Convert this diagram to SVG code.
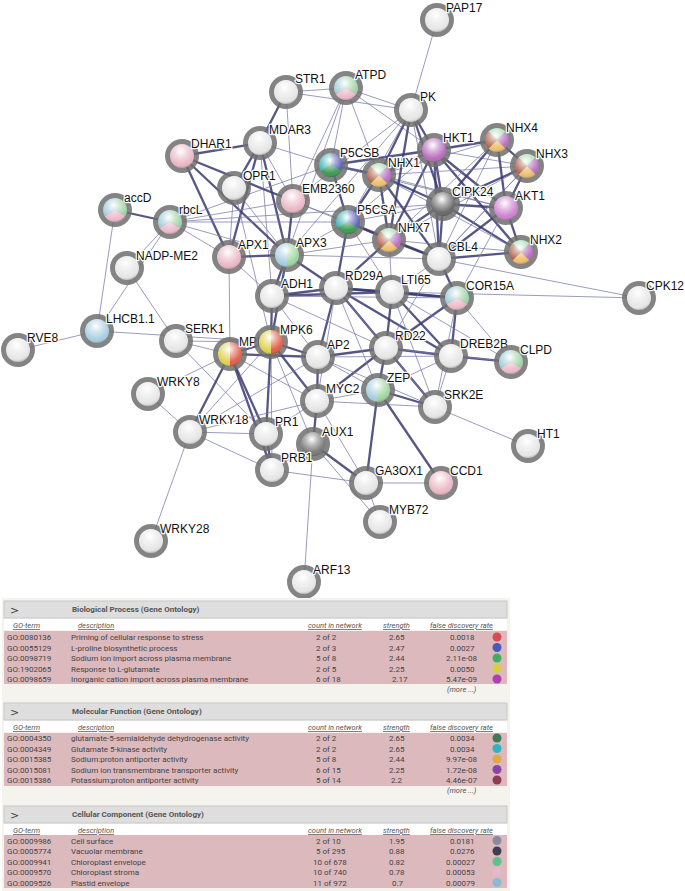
<svg xmlns="http://www.w3.org/2000/svg" xmlns:xlink="http://www.w3.org/1999/xlink" width="685" height="891" viewBox="0 0 685 891">
<style>
.t{stroke:#7a7aae;stroke-width:1;opacity:.75}
.k{stroke:#3a3a72;stroke-width:2.3;opacity:.85}
.halo{fill:#6e6e6e;opacity:.85}
.w{fill:#e6e6e6}
.lb{font-family:"Liberation Sans",Arial,sans-serif;font-size:12px;fill:#111;stroke:#fff;stroke-width:2.5px;paint-order:stroke;stroke-linejoin:round}
.tt{font-family:Roboto,"Liberation Sans",sans-serif;font-size:8px;fill:#555;font-weight:bold}
.cv{font-family:"DejaVu Sans",sans-serif;font-size:11px;fill:#444}
.ch{font-family:Roboto,"Liberation Sans",sans-serif;font-size:7.5px;fill:#555;font-style:italic;text-decoration:underline}
.rw{font-family:Roboto,"Liberation Sans",sans-serif;font-size:8px;fill:#444}
.mo{font-family:Roboto,"Liberation Sans",sans-serif;font-size:7.5px;fill:#555;font-style:italic}
</style>
<defs>
<radialGradient id="sh" cx="0.45" cy="0.3" r="0.7">
<stop offset="0" stop-color="#fff" stop-opacity="1"/>
<stop offset="0.35" stop-color="#fff" stop-opacity="0.5"/>
<stop offset="0.8" stop-color="#fff" stop-opacity="0"/>
<stop offset="1" stop-color="#000" stop-opacity="0.2"/>
</radialGradient>
<g id="cc3">
<path d="M0,0 L0,-12 A12,12 0 0,0 -10.39,6 Z" fill="#9ccbd6"/>
<path d="M0,0 L0,-12 A12,12 0 0,1 10.39,6 Z" fill="#9fd3a6"/>
<path d="M0,0 L10.39,6 A12,12 0 0,1 -10.39,6 Z" fill="#ecbccb"/>
</g>
<g id="p5">
<path d="M0,0 L0,-12 A12,12 0 0,0 -10.39,6 Z" fill="#3fb3b3"/>
<path d="M0,0 L0,-12 A12,12 0 0,1 10.39,6 Z" fill="#5a62b8"/>
<path d="M0,0 L10.39,6 A12,12 0 0,1 -10.39,6 Z" fill="#3f9a55"/>
</g>
<g id="nhx">
<path d="M0,0 L-8.49,-8.49 A12,12 0 0,1 8.49,-8.49 Z" fill="#9ed4a8"/>
<path d="M0,0 L8.49,-8.49 A12,12 0 0,1 8.49,8.49 Z" fill="#b870c0"/>
<path d="M0,0 L8.49,8.49 A12,12 0 0,1 -8.49,8.49 Z" fill="#eec070"/>
<path d="M0,0 L-8.49,8.49 A12,12 0 0,1 -8.49,-8.49 Z" fill="#b0664e"/>
</g>
<g id="gb">
<path d="M0,-12 A12,12 0 0,0 0,12 Z" fill="#a6cde0"/>
<path d="M0,-12 A12,12 0 0,1 0,12 Z" fill="#9fd6a0"/>
</g>
<g id="yr">
<path d="M0,-12 A12,12 0 0,0 0,12 Z" fill="#e0d050"/>
<path d="M0,-12 A12,12 0 0,1 0,12 Z" fill="#e0604a"/>
</g>
<g id="hal"><circle r="17" class="halo"/></g>
<g id="shn"><circle r="12" fill="url(#sh)"/></g>
</defs>
<rect width="685" height="891" fill="#fff"/>
<g id="edges">
<line x1="437" y1="20" x2="411" y2="110" class="t"/>
<line x1="286" y1="92" x2="260" y2="143" class="k"/>
<line x1="286" y1="92" x2="346" y2="88" class="t"/>
<line x1="286" y1="92" x2="411" y2="110" class="t"/>
<line x1="286" y1="92" x2="293" y2="201" class="t"/>
<line x1="346" y1="88" x2="331" y2="165" class="t"/>
<line x1="346" y1="88" x2="293" y2="201" class="t"/>
<line x1="346" y1="88" x2="287" y2="255" class="t"/>
<line x1="346" y1="88" x2="411" y2="110" class="t"/>
<line x1="346" y1="88" x2="379" y2="175" class="t"/>
<line x1="346" y1="88" x2="434" y2="150" class="t"/>
<line x1="260" y1="143" x2="182" y2="156" class="k"/>
<line x1="260" y1="143" x2="234" y2="188" class="k"/>
<line x1="260" y1="143" x2="229" y2="257" class="k"/>
<line x1="260" y1="143" x2="287" y2="255" class="k"/>
<line x1="260" y1="143" x2="293" y2="201" class="t"/>
<line x1="260" y1="143" x2="331" y2="165" class="t"/>
<line x1="260" y1="143" x2="272" y2="296" class="t"/>
<line x1="182" y1="156" x2="229" y2="257" class="k"/>
<line x1="182" y1="156" x2="287" y2="255" class="k"/>
<line x1="182" y1="156" x2="293" y2="201" class="k"/>
<line x1="234" y1="188" x2="229" y2="257" class="t"/>
<line x1="234" y1="188" x2="271" y2="342" class="t"/>
<line x1="234" y1="188" x2="287" y2="255" class="t"/>
<line x1="115" y1="210" x2="170" y2="222" class="k"/>
<line x1="115" y1="210" x2="97" y2="331" class="t"/>
<line x1="170" y1="222" x2="127" y2="268" class="t"/>
<line x1="170" y1="222" x2="97" y2="331" class="t"/>
<line x1="170" y1="222" x2="293" y2="201" class="t"/>
<line x1="170" y1="222" x2="229" y2="257" class="t"/>
<line x1="170" y1="222" x2="348" y2="222" class="t"/>
<line x1="170" y1="222" x2="287" y2="255" class="t"/>
<line x1="170" y1="222" x2="443" y2="204" class="t"/>
<line x1="170" y1="222" x2="331" y2="165" class="t"/>
<line x1="127" y1="268" x2="176" y2="341" class="t"/>
<line x1="97" y1="331" x2="18" y2="350" class="t"/>
<line x1="97" y1="331" x2="271" y2="342" class="t"/>
<line x1="176" y1="341" x2="230" y2="354" class="t"/>
<line x1="176" y1="341" x2="271" y2="342" class="t"/>
<line x1="176" y1="341" x2="266" y2="434" class="t"/>
<line x1="639" y1="298" x2="439" y2="259" class="t"/>
<line x1="639" y1="298" x2="392" y2="292" class="t"/>
<line x1="528" y1="446" x2="435" y2="407" class="t"/>
<line x1="151" y1="541" x2="190" y2="432" class="t"/>
<line x1="148" y1="394" x2="190" y2="432" class="t"/>
<line x1="148" y1="394" x2="230" y2="354" class="t"/>
<line x1="304" y1="582" x2="313" y2="444" class="t"/>
<line x1="380" y1="522" x2="366" y2="483" class="t"/>
<line x1="380" y1="522" x2="313" y2="444" class="t"/>
<line x1="441" y1="483" x2="378" y2="390" class="k"/>
<line x1="441" y1="483" x2="366" y2="483" class="t"/>
<line x1="434" y1="150" x2="379" y2="175" class="k"/>
<line x1="434" y1="150" x2="443" y2="204" class="k"/>
<line x1="434" y1="150" x2="506" y2="208" class="k"/>
<line x1="434" y1="150" x2="497" y2="140" class="k"/>
<line x1="434" y1="150" x2="527" y2="166" class="t"/>
<line x1="434" y1="150" x2="521" y2="252" class="k"/>
<line x1="434" y1="150" x2="439" y2="259" class="k"/>
<line x1="434" y1="150" x2="389" y2="240" class="k"/>
<line x1="434" y1="150" x2="331" y2="165" class="k"/>
<line x1="434" y1="150" x2="348" y2="222" class="t"/>
<line x1="443" y1="204" x2="439" y2="259" class="k"/>
<line x1="443" y1="204" x2="379" y2="175" class="k"/>
<line x1="443" y1="204" x2="389" y2="240" class="k"/>
<line x1="443" y1="204" x2="506" y2="208" class="k"/>
<line x1="443" y1="204" x2="521" y2="252" class="k"/>
<line x1="443" y1="204" x2="527" y2="166" class="k"/>
<line x1="443" y1="204" x2="497" y2="140" class="k"/>
<line x1="443" y1="204" x2="348" y2="222" class="t"/>
<line x1="439" y1="259" x2="389" y2="240" class="k"/>
<line x1="439" y1="259" x2="506" y2="208" class="k"/>
<line x1="439" y1="259" x2="379" y2="175" class="k"/>
<line x1="439" y1="259" x2="521" y2="252" class="k"/>
<line x1="439" y1="259" x2="497" y2="140" class="t"/>
<line x1="439" y1="259" x2="527" y2="166" class="t"/>
<line x1="379" y1="175" x2="389" y2="240" class="k"/>
<line x1="379" y1="175" x2="348" y2="222" class="k"/>
<line x1="379" y1="175" x2="497" y2="140" class="t"/>
<line x1="379" y1="175" x2="527" y2="166" class="t"/>
<line x1="379" y1="175" x2="521" y2="252" class="t"/>
<line x1="379" y1="175" x2="506" y2="208" class="t"/>
<line x1="497" y1="140" x2="527" y2="166" class="k"/>
<line x1="497" y1="140" x2="506" y2="208" class="k"/>
<line x1="521" y1="252" x2="506" y2="208" class="k"/>
<line x1="527" y1="166" x2="506" y2="208" class="k"/>
<line x1="527" y1="166" x2="389" y2="240" class="t"/>
<line x1="497" y1="140" x2="389" y2="240" class="t"/>
<line x1="521" y1="252" x2="389" y2="240" class="t"/>
<line x1="331" y1="165" x2="348" y2="222" class="k"/>
<line x1="331" y1="165" x2="379" y2="175" class="k"/>
<line x1="331" y1="165" x2="506" y2="208" class="t"/>
<line x1="411" y1="110" x2="434" y2="150" class="k"/>
<line x1="411" y1="110" x2="379" y2="175" class="k"/>
<line x1="411" y1="110" x2="443" y2="204" class="k"/>
<line x1="411" y1="110" x2="439" y2="259" class="t"/>
<line x1="411" y1="110" x2="389" y2="240" class="k"/>
<line x1="411" y1="110" x2="348" y2="222" class="t"/>
<line x1="411" y1="110" x2="293" y2="201" class="t"/>
<line x1="411" y1="110" x2="287" y2="255" class="t"/>
<line x1="336" y1="288" x2="392" y2="292" class="k"/>
<line x1="336" y1="288" x2="457" y2="298" class="k"/>
<line x1="336" y1="288" x2="386" y2="348" class="k"/>
<line x1="336" y1="288" x2="318" y2="357" class="k"/>
<line x1="336" y1="288" x2="272" y2="296" class="k"/>
<line x1="336" y1="288" x2="451" y2="356" class="k"/>
<line x1="336" y1="288" x2="317" y2="401" class="t"/>
<line x1="336" y1="288" x2="348" y2="222" class="k"/>
<line x1="336" y1="288" x2="389" y2="240" class="k"/>
<line x1="392" y1="292" x2="457" y2="298" class="k"/>
<line x1="392" y1="292" x2="386" y2="348" class="k"/>
<line x1="392" y1="292" x2="451" y2="356" class="k"/>
<line x1="392" y1="292" x2="439" y2="259" class="t"/>
<line x1="392" y1="292" x2="272" y2="296" class="k"/>
<line x1="457" y1="298" x2="386" y2="348" class="k"/>
<line x1="457" y1="298" x2="451" y2="356" class="k"/>
<line x1="457" y1="298" x2="272" y2="296" class="t"/>
<line x1="386" y1="348" x2="451" y2="356" class="k"/>
<line x1="386" y1="348" x2="318" y2="357" class="k"/>
<line x1="386" y1="348" x2="317" y2="401" class="k"/>
<line x1="386" y1="348" x2="435" y2="407" class="k"/>
<line x1="386" y1="348" x2="378" y2="390" class="k"/>
<line x1="451" y1="356" x2="511" y2="362" class="k"/>
<line x1="451" y1="356" x2="435" y2="407" class="t"/>
<line x1="451" y1="356" x2="318" y2="357" class="t"/>
<line x1="318" y1="357" x2="317" y2="401" class="k"/>
<line x1="318" y1="357" x2="272" y2="296" class="t"/>
<line x1="318" y1="357" x2="271" y2="342" class="k"/>
<line x1="317" y1="401" x2="313" y2="444" class="k"/>
<line x1="317" y1="401" x2="230" y2="354" class="t"/>
<line x1="317" y1="401" x2="271" y2="342" class="k"/>
<line x1="317" y1="401" x2="378" y2="390" class="t"/>
<line x1="317" y1="401" x2="435" y2="407" class="t"/>
<line x1="230" y1="354" x2="271" y2="342" class="k"/>
<line x1="230" y1="354" x2="190" y2="432" class="k"/>
<line x1="230" y1="354" x2="266" y2="434" class="k"/>
<line x1="230" y1="354" x2="318" y2="357" class="k"/>
<line x1="271" y1="342" x2="266" y2="434" class="k"/>
<line x1="271" y1="342" x2="190" y2="432" class="t"/>
<line x1="271" y1="342" x2="272" y2="470" class="t"/>
<line x1="266" y1="434" x2="190" y2="432" class="t"/>
<line x1="266" y1="434" x2="272" y2="470" class="k"/>
<line x1="266" y1="434" x2="317" y2="401" class="t"/>
<line x1="313" y1="444" x2="366" y2="483" class="k"/>
<line x1="378" y1="390" x2="435" y2="407" class="k"/>
<line x1="378" y1="390" x2="366" y2="483" class="k"/>
<line x1="378" y1="390" x2="336" y2="288" class="t"/>
<line x1="435" y1="407" x2="457" y2="298" class="t"/>
<line x1="435" y1="407" x2="392" y2="292" class="t"/>
<line x1="435" y1="407" x2="336" y2="288" class="t"/>
<line x1="287" y1="255" x2="229" y2="257" class="k"/>
<line x1="287" y1="255" x2="272" y2="296" class="k"/>
<line x1="287" y1="255" x2="336" y2="288" class="k"/>
<line x1="287" y1="255" x2="348" y2="222" class="t"/>
<line x1="287" y1="255" x2="293" y2="201" class="k"/>
<line x1="287" y1="255" x2="271" y2="342" class="k"/>
<line x1="287" y1="255" x2="389" y2="240" class="t"/>
<line x1="287" y1="255" x2="439" y2="259" class="t"/>
<line x1="229" y1="257" x2="230" y2="354" class="t"/>
<line x1="229" y1="257" x2="272" y2="296" class="t"/>
<line x1="293" y1="201" x2="348" y2="222" class="t"/>
<line x1="293" y1="201" x2="389" y2="240" class="t"/>
<line x1="348" y1="222" x2="389" y2="240" class="k"/>
<line x1="348" y1="222" x2="392" y2="292" class="t"/>
<line x1="348" y1="222" x2="439" y2="259" class="k"/>
<line x1="389" y1="240" x2="392" y2="292" class="t"/>
<line x1="439" y1="259" x2="457" y2="298" class="k"/>
<line x1="439" y1="259" x2="386" y2="348" class="t"/>
<line x1="272" y1="296" x2="271" y2="342" class="k"/>
<line x1="272" y1="296" x2="386" y2="348" class="t"/>
<line x1="318" y1="357" x2="378" y2="390" class="t"/>
<line x1="318" y1="357" x2="435" y2="407" class="t"/>
<line x1="451" y1="356" x2="378" y2="390" class="t"/>
<line x1="511" y1="362" x2="457" y2="298" class="t"/>
<line x1="511" y1="362" x2="386" y2="348" class="t"/>
<line x1="511" y1="362" x2="392" y2="292" class="t"/>
<line x1="272" y1="470" x2="190" y2="432" class="t"/>
<line x1="272" y1="470" x2="313" y2="444" class="t"/>
<line x1="272" y1="470" x2="230" y2="354" class="k"/>
<line x1="366" y1="483" x2="317" y2="401" class="t"/>
<line x1="366" y1="483" x2="272" y2="470" class="t"/>
<line x1="313" y1="444" x2="271" y2="342" class="t"/>
<line x1="190" y1="432" x2="317" y2="401" class="t"/>
<line x1="190" y1="432" x2="318" y2="357" class="t"/>
<line x1="506" y1="208" x2="457" y2="298" class="t"/>
<line x1="527" y1="166" x2="439" y2="259" class="t"/>
</g>
<g id="nodes">
<g id="n-PAP17"><use href="#hal" x="437" y="20"/><circle cx="437" cy="20" r="12" class="w"/><use href="#shn" x="437" y="20"/><text x="446" y="12" class="lb">PAP17</text></g>
<g id="n-STR1"><use href="#hal" x="286" y="92"/><circle cx="286" cy="92" r="12" class="w"/><use href="#shn" x="286" y="92"/><text x="295" y="83" class="lb">STR1</text></g>
<g id="n-ATPD"><use href="#hal" x="346" y="88"/><use href="#cc3" x="346" y="88"/><use href="#shn" x="346" y="88"/><text x="355" y="79" class="lb">ATPD</text></g>
<g id="n-PK"><use href="#hal" x="411" y="110"/><circle cx="411" cy="110" r="12" class="w"/><use href="#shn" x="411" y="110"/><text x="420" y="101" class="lb">PK</text></g>
<g id="n-MDAR3"><use href="#hal" x="260" y="143"/><circle cx="260" cy="143" r="12" class="w"/><use href="#shn" x="260" y="143"/><text x="269" y="134" class="lb">MDAR3</text></g>
<g id="n-DHAR1"><use href="#hal" x="182" y="156"/><circle cx="182" cy="156" r="12" fill="#eab8c4"/><use href="#shn" x="182" y="156"/><text x="191" y="148" class="lb">DHAR1</text></g>
<g id="n-HKT1"><use href="#hal" x="434" y="150"/><circle cx="434" cy="150" r="12" fill="#b86cbc"/><use href="#shn" x="434" y="150"/><text x="443" y="142" class="lb">HKT1</text></g>
<g id="n-NHX4"><use href="#hal" x="497" y="140"/><use href="#nhx" x="497" y="140"/><use href="#shn" x="497" y="140"/><text x="506" y="132" class="lb">NHX4</text></g>
<g id="n-NHX3"><use href="#hal" x="527" y="166"/><use href="#nhx" x="527" y="166"/><use href="#shn" x="527" y="166"/><text x="536" y="158" class="lb">NHX3</text></g>
<g id="n-P5CSB"><use href="#hal" x="331" y="165"/><use href="#p5" x="331" y="165"/><use href="#shn" x="331" y="165"/><text x="340" y="157" class="lb">P5CSB</text></g>
<g id="n-NHX1"><use href="#hal" x="379" y="175"/><use href="#nhx" x="379" y="175"/><use href="#shn" x="379" y="175"/><text x="388" y="167" class="lb">NHX1</text></g>
<g id="n-OPR1"><use href="#hal" x="234" y="188"/><circle cx="234" cy="188" r="12" class="w"/><use href="#shn" x="234" y="188"/><text x="243" y="180" class="lb">OPR1</text></g>
<g id="n-EMB2360"><use href="#hal" x="293" y="201"/><circle cx="293" cy="201" r="12" fill="#eab8c4"/><use href="#shn" x="293" y="201"/><text x="302" y="193" class="lb">EMB2360</text></g>
<g id="n-CIPK24"><use href="#hal" x="443" y="204"/><circle cx="443" cy="204" r="12" fill="#6a6a6a"/><use href="#shn" x="443" y="204"/><text x="452" y="196" class="lb">CIPK24</text></g>
<g id="n-AKT1"><use href="#hal" x="506" y="208"/><circle cx="506" cy="208" r="12" fill="#cf80d0"/><use href="#shn" x="506" y="208"/><text x="515" y="200" class="lb">AKT1</text></g>
<g id="n-accD"><use href="#hal" x="115" y="210"/><use href="#cc3" x="115" y="210"/><use href="#shn" x="115" y="210"/><text x="124" y="202" class="lb">accD</text></g>
<g id="n-rbcL"><use href="#hal" x="170" y="222"/><use href="#cc3" x="170" y="222"/><use href="#shn" x="170" y="222"/><text x="179" y="214" class="lb">rbcL</text></g>
<g id="n-P5CSA"><use href="#hal" x="348" y="222"/><use href="#p5" x="348" y="222"/><use href="#shn" x="348" y="222"/><text x="357" y="214" class="lb">P5CSA</text></g>
<g id="n-NHX7"><use href="#hal" x="389" y="240"/><use href="#nhx" x="389" y="240"/><use href="#shn" x="389" y="240"/><text x="398" y="232" class="lb">NHX7</text></g>
<g id="n-APX3"><use href="#hal" x="287" y="255"/><use href="#gb" x="287" y="255"/><use href="#shn" x="287" y="255"/><text x="296" y="247" class="lb">APX3</text></g>
<g id="n-APX1"><use href="#hal" x="229" y="257"/><circle cx="229" cy="257" r="12" fill="#eab8c4"/><use href="#shn" x="229" y="257"/><text x="238" y="249" class="lb">APX1</text></g>
<g id="n-NADP-ME2"><use href="#hal" x="127" y="268"/><circle cx="127" cy="268" r="12" class="w"/><use href="#shn" x="127" y="268"/><text x="136" y="260" class="lb">NADP-ME2</text></g>
<g id="n-CBL4"><use href="#hal" x="439" y="259"/><circle cx="439" cy="259" r="12" class="w"/><use href="#shn" x="439" y="259"/><text x="448" y="251" class="lb">CBL4</text></g>
<g id="n-NHX2"><use href="#hal" x="521" y="252"/><use href="#nhx" x="521" y="252"/><use href="#shn" x="521" y="252"/><text x="530" y="244" class="lb">NHX2</text></g>
<g id="n-ADH1"><use href="#hal" x="272" y="296"/><circle cx="272" cy="296" r="12" class="w"/><use href="#shn" x="272" y="296"/><text x="281" y="288" class="lb">ADH1</text></g>
<g id="n-RD29A"><use href="#hal" x="336" y="288"/><circle cx="336" cy="288" r="12" class="w"/><use href="#shn" x="336" y="288"/><text x="345" y="280" class="lb">RD29A</text></g>
<g id="n-LTI65"><use href="#hal" x="392" y="292"/><circle cx="392" cy="292" r="12" class="w"/><use href="#shn" x="392" y="292"/><text x="401" y="284" class="lb">LTI65</text></g>
<g id="n-COR15A"><use href="#hal" x="457" y="298"/><use href="#cc3" x="457" y="298"/><use href="#shn" x="457" y="298"/><text x="466" y="290" class="lb">COR15A</text></g>
<g id="n-CPK12"><use href="#hal" x="639" y="298"/><circle cx="639" cy="298" r="12" class="w"/><use href="#shn" x="639" y="298"/><text x="646" y="290" class="lb">CPK12</text></g>
<g id="n-RVE8"><use href="#hal" x="18" y="350"/><circle cx="18" cy="350" r="12" class="w"/><use href="#shn" x="18" y="350"/><text x="27" y="342" class="lb">RVE8</text></g>
<g id="n-LHCB1.1"><use href="#hal" x="97" y="331"/><circle cx="97" cy="331" r="12" fill="#a8cfe0"/><use href="#shn" x="97" y="331"/><text x="106" y="323" class="lb">LHCB1.1</text></g>
<g id="n-SERK1"><use href="#hal" x="176" y="341"/><circle cx="176" cy="341" r="12" class="w"/><use href="#shn" x="176" y="341"/><text x="185" y="333" class="lb">SERK1</text></g>
<g id="n-MPK3"><use href="#hal" x="230" y="354"/><use href="#yr" x="230" y="354"/><use href="#shn" x="230" y="354"/><text x="239" y="346" class="lb">MPK</text></g>
<g id="n-MPK6"><use href="#hal" x="271" y="342"/><use href="#yr" x="271" y="342"/><use href="#shn" x="271" y="342"/><text x="280" y="334" class="lb">MPK6</text></g>
<g id="n-AP2"><use href="#hal" x="318" y="357"/><circle cx="318" cy="357" r="12" class="w"/><use href="#shn" x="318" y="357"/><text x="327" y="349" class="lb">AP2</text></g>
<g id="n-RD22"><use href="#hal" x="386" y="348"/><circle cx="386" cy="348" r="12" class="w"/><use href="#shn" x="386" y="348"/><text x="395" y="340" class="lb">RD22</text></g>
<g id="n-DREB2B"><use href="#hal" x="451" y="356"/><circle cx="451" cy="356" r="12" class="w"/><use href="#shn" x="451" y="356"/><text x="460" y="348" class="lb">DREB2B</text></g>
<g id="n-CLPD"><use href="#hal" x="511" y="362"/><use href="#cc3" x="511" y="362"/><use href="#shn" x="511" y="362"/><text x="520" y="354" class="lb">CLPD</text></g>
<g id="n-WRKY8"><use href="#hal" x="148" y="394"/><circle cx="148" cy="394" r="12" class="w"/><use href="#shn" x="148" y="394"/><text x="157" y="386" class="lb">WRKY8</text></g>
<g id="n-MYC2"><use href="#hal" x="317" y="401"/><circle cx="317" cy="401" r="12" class="w"/><use href="#shn" x="317" y="401"/><text x="326" y="393" class="lb">MYC2</text></g>
<g id="n-ZEP"><use href="#hal" x="378" y="390"/><use href="#gb" x="378" y="390"/><use href="#shn" x="378" y="390"/><text x="387" y="382" class="lb">ZEP</text></g>
<g id="n-SRK2E"><use href="#hal" x="435" y="407"/><circle cx="435" cy="407" r="12" class="w"/><use href="#shn" x="435" y="407"/><text x="444" y="399" class="lb">SRK2E</text></g>
<g id="n-WRKY18"><use href="#hal" x="190" y="432"/><circle cx="190" cy="432" r="12" class="w"/><use href="#shn" x="190" y="432"/><text x="199" y="424" class="lb">WRKY18</text></g>
<g id="n-PR1"><use href="#hal" x="266" y="434"/><circle cx="266" cy="434" r="12" class="w"/><use href="#shn" x="266" y="434"/><text x="275" y="426" class="lb">PR1</text></g>
<g id="n-AUX1"><use href="#hal" x="313" y="444"/><circle cx="313" cy="444" r="12" fill="#7a7a7a"/><use href="#shn" x="313" y="444"/><text x="322" y="436" class="lb">AUX1</text></g>
<g id="n-HT1"><use href="#hal" x="528" y="446"/><circle cx="528" cy="446" r="12" class="w"/><use href="#shn" x="528" y="446"/><text x="537" y="438" class="lb">HT1</text></g>
<g id="n-PRB1"><use href="#hal" x="272" y="470"/><circle cx="272" cy="470" r="12" class="w"/><use href="#shn" x="272" y="470"/><text x="281" y="462" class="lb">PRB1</text></g>
<g id="n-GA3OX1"><use href="#hal" x="366" y="483"/><circle cx="366" cy="483" r="12" class="w"/><use href="#shn" x="366" y="483"/><text x="375" y="475" class="lb">GA3OX1</text></g>
<g id="n-CCD1"><use href="#hal" x="441" y="483"/><circle cx="441" cy="483" r="12" fill="#eab8c4"/><use href="#shn" x="441" y="483"/><text x="450" y="475" class="lb">CCD1</text></g>
<g id="n-MYB72"><use href="#hal" x="380" y="522"/><circle cx="380" cy="522" r="12" class="w"/><use href="#shn" x="380" y="522"/><text x="389" y="514" class="lb">MYB72</text></g>
<g id="n-WRKY28"><use href="#hal" x="151" y="541"/><circle cx="151" cy="541" r="12" class="w"/><use href="#shn" x="151" y="541"/><text x="160" y="533" class="lb">WRKY28</text></g>
<g id="n-ARF13"><use href="#hal" x="304" y="582"/><circle cx="304" cy="582" r="12" class="w"/><use href="#shn" x="304" y="582"/><text x="313" y="574" class="lb">ARF13</text></g>
</g>
<g id="tables">
<rect x="2" y="598" width="508" height="293" fill="#f4f3ee"/>
<g id="t-bp">
<rect x="4" y="601" width="503" height="17" fill="#dedede" stroke="#c8c8c8"/>
<text x="10" y="614" class="cv">&gt;</text>
<text x="72" y="612" class="tt">Biological Process (Gene Ontology)</text>
<rect x="4" y="619" width="503" height="11" fill="#fff"/>
<text x="13" y="628" class="ch">GO-term</text><text x="78" y="628" class="ch">description</text><text x="308" y="628" class="ch">count in network</text><text x="383" y="628" class="ch">strength</text><text x="430" y="628" class="ch">false discovery rate</text>
<rect x="4" y="631" width="503" height="53" fill="#dbb9bd"/>
<text y="640" class="rw"><tspan x="7">GO:0080136</tspan><tspan x="71">Priming of cellular response to stress</tspan><tspan x="316">2 of 2</tspan><tspan x="389">2.65</tspan><tspan x="450">0.0018</tspan></text>
<text y="650.5" class="rw"><tspan x="7">GO:0055129</tspan><tspan x="71">L-proline biosynthetic process</tspan><tspan x="316">2 of 3</tspan><tspan x="389">2.47</tspan><tspan x="450">0.0027</tspan></text>
<text y="661" class="rw"><tspan x="7">GO:0098719</tspan><tspan x="71">Sodium ion import across plasma membrane</tspan><tspan x="316">5 of 8</tspan><tspan x="389">2.44</tspan><tspan x="446">2.11e-08</tspan></text>
<text y="671.5" class="rw"><tspan x="7">GO:1902065</tspan><tspan x="71">Response to L-glutamate</tspan><tspan x="316">2 of 5</tspan><tspan x="389">2.25</tspan><tspan x="450">0.0050</tspan></text>
<text y="682" class="rw"><tspan x="7">GO:0098659</tspan><tspan x="71">Inorganic cation import across plasma membrane</tspan><tspan x="316">6 of 18</tspan><tspan x="392">2.17</tspan><tspan x="446">5.47e-09</tspan></text>
<circle cx="497" cy="637" r="4.5" fill="#d84a55"/><circle cx="497" cy="647.5" r="4.5" fill="#4a5ab8"/><circle cx="497" cy="658" r="4.5" fill="#3fae60"/><circle cx="497" cy="668.5" r="4.5" fill="#d6d040"/><circle cx="497" cy="679" r="4.5" fill="#b040b0"/>
<text x="447" y="692" class="mo">(more ...)</text>
</g>
<g id="t-mf">
<rect x="4" y="703" width="503" height="17" fill="#dedede" stroke="#c8c8c8"/>
<text x="10" y="716" class="cv">&gt;</text>
<text x="72" y="714" class="tt">Molecular Function (Gene Ontology)</text>
<rect x="4" y="721" width="503" height="11" fill="#fff"/>
<text x="13" y="730" class="ch">GO-term</text><text x="78" y="730" class="ch">description</text><text x="308" y="730" class="ch">count in network</text><text x="383" y="730" class="ch">strength</text><text x="430" y="730" class="ch">false discovery rate</text>
<rect x="4" y="733" width="503" height="53" fill="#dbb9bd"/>
<text y="741" class="rw"><tspan x="7">GO:0004350</tspan><tspan x="71">glutamate-5-semialdehyde dehydrogenase activity</tspan><tspan x="316">2 of 2</tspan><tspan x="389">2.65</tspan><tspan x="450">0.0034</tspan></text>
<text y="751.5" class="rw"><tspan x="7">GO:0004349</tspan><tspan x="71">Glutamate 5-kinase activity</tspan><tspan x="316">2 of 2</tspan><tspan x="389">2.65</tspan><tspan x="450">0.0034</tspan></text>
<text y="762" class="rw"><tspan x="7">GO:0015385</tspan><tspan x="71">Sodium:proton antiporter activity</tspan><tspan x="316">5 of 8</tspan><tspan x="389">2.44</tspan><tspan x="446">9.97e-08</tspan></text>
<text y="772.5" class="rw"><tspan x="7">GO:0015081</tspan><tspan x="71">Sodium ion transmembrane transporter activity</tspan><tspan x="316">6 of 15</tspan><tspan x="389">2.25</tspan><tspan x="446">1.72e-08</tspan></text>
<text y="783" class="rw"><tspan x="7">GO:0015386</tspan><tspan x="71">Potassium:proton antiporter activity</tspan><tspan x="316">5 of 14</tspan><tspan x="391">2.2</tspan><tspan x="446">4.46e-07</tspan></text>
<circle cx="497" cy="738" r="4.5" fill="#3c7a58"/><circle cx="497" cy="748.5" r="4.5" fill="#30b4c4"/><circle cx="497" cy="759" r="4.5" fill="#e0a848"/><circle cx="497" cy="769.5" r="4.5" fill="#8a44a8"/><circle cx="497" cy="780" r="4.5" fill="#8c3c55"/>
<text x="447" y="793" class="mo">(more ...)</text>
</g>
<g id="t-cc">
<rect x="4" y="806" width="503" height="17" fill="#dedede" stroke="#c8c8c8"/>
<text x="10" y="819" class="cv">&gt;</text>
<text x="72" y="817" class="tt">Cellular Component (Gene Ontology)</text>
<rect x="4" y="824" width="503" height="11" fill="#fff"/>
<text x="13" y="833" class="ch">GO-term</text><text x="78" y="833" class="ch">description</text><text x="308" y="833" class="ch">count in network</text><text x="383" y="833" class="ch">strength</text><text x="430" y="833" class="ch">false discovery rate</text>
<rect x="4" y="835" width="503" height="53" fill="#dbb9bd"/>
<text y="843.5" class="rw"><tspan x="7">GO:0009986</tspan><tspan x="71">Cell surface</tspan><tspan x="316">2 of 10</tspan><tspan x="389">1.95</tspan><tspan x="450">0.0181</tspan></text>
<text y="854" class="rw"><tspan x="7">GO:0005774</tspan><tspan x="71">Vacuolar membrane</tspan><tspan x="316">5 of 295</tspan><tspan x="389">0.88</tspan><tspan x="450">0.0276</tspan></text>
<text y="864.5" class="rw"><tspan x="7">GO:0009941</tspan><tspan x="71">Chloroplast envelope</tspan><tspan x="313">10 of 678</tspan><tspan x="389">0.82</tspan><tspan x="446">0.00027</tspan></text>
<text y="875" class="rw"><tspan x="7">GO:0009570</tspan><tspan x="71">Chloroplast stroma</tspan><tspan x="313">10 of 740</tspan><tspan x="389">0.78</tspan><tspan x="446">0.00053</tspan></text>
<text y="885.5" class="rw"><tspan x="7">GO:0009526</tspan><tspan x="71">Plastid envelope</tspan><tspan x="313">11 of 972</tspan><tspan x="392">0.7</tspan><tspan x="446">0.00079</tspan></text>
<circle cx="497" cy="840.5" r="4.5" fill="#8a8a9c"/><circle cx="497" cy="851" r="4.5" fill="#3e3e4e"/><circle cx="497" cy="861.5" r="4.5" fill="#60c08a"/><circle cx="497" cy="872" r="4.5" fill="#e4b8d0"/><circle cx="497" cy="882.5" r="4.5" fill="#90b8d6"/>
</g>
</g>
</svg>
